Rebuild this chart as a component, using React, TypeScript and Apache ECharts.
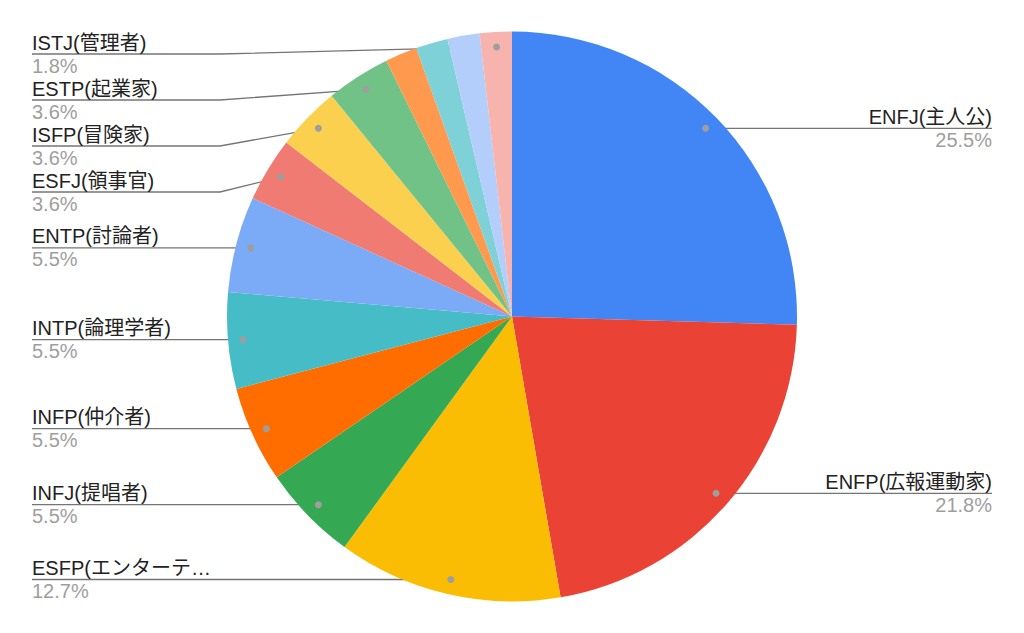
import { useEffect, useRef } from "react";
import * as echarts from "echarts";

// ---- data ----
const categories = [
  "ENFJ(主人公)",
  "ENFP(広報運動家)",
  "ESFP(エンターテイナー)",
  "INFJ(提唱者)",
  "INFP(仲介者)",
  "INTP(論理学者)",
  "ENTP(討論者)",
  "ESFJ(領事官)",
  "ISFP(冒険家)",
  "ESTP(起業家)",
  "ISFJ(擁護者)",
  "ESTJ(幹部)",
  "ISTP(巨匠)",
  "ISTJ(管理者)",
];
const counts = [14, 12, 7, 3, 3, 3, 3, 2, 2, 2, 1, 1, 1, 1];
const unlabeled = ["ISFJ(擁護者)", "ESTJ(幹部)", "ISTP(巨匠)"];
const sliceColors = [
  "#4285F4", "#EA4335", "#FBBC04", "#34A853", "#FF6D01", "#46BDC6", "#7BAAF7",
  "#F07B72", "#FCD04F", "#71C287", "#FF994D", "#7ED1D7", "#B3CEFB", "#F7B4AE",
];

// ---- layout constants ----
const W = 1024;
const H = 633;
const CX = 512;
const CY = 316.5;
const R = 285;
const DOT_R = 270;
const LEFT_X = 32;
const RIGHT_X = 992;
const LABEL_W = 188;
const SPACING = 46;
const MIN_Y = 54;
const FONT = "'Liberation Sans', Arial, 'Noto Sans CJK JP', sans-serif";
const FONT_SIZE = 20;
const LINE_H = 23;

type Lay = { x: number; y: number; align: string; dot: number[]; points: number[][] };

function computeLayout(): (Lay | null)[] {
  const total = counts.reduce((a, b) => a + b, 0);
  let acc = 0;
  const items = counts.map((v, i) => {
    const a = ((acc + v / 2) / total) * Math.PI * 2;
    acc += v;
    const dot = [CX + DOT_R * Math.sin(a), CY - DOT_R * Math.cos(a)];
    return { i, dot, left: Math.sin(a) < 0, show: !unlabeled.includes(categories[i]) };
  });
  const res: (Lay | null)[] = categories.map(() => null);
  [true, false].forEach((left) => {
    const side = items.filter((it) => it.show && it.left === left).sort((a, b) => a.dot[1] - b.dot[1]);
    let prev = -Infinity;
    side.forEach((it) => {
      const y = Math.max(it.dot[1], prev + SPACING, MIN_Y);
      prev = y;
      const endX = left ? LEFT_X : RIGHT_X;
      const bendX = left ? LEFT_X + LABEL_W : RIGHT_X - LABEL_W;
      res[it.i] = {
        x: endX,
        y,
        align: left ? "left" : "right",
        dot: it.dot,
        points: [it.dot, [left ? Math.min(bendX, it.dot[0]) : Math.max(bendX, it.dot[0]), y], [endX, y]],
      };
    });
  });
  return res;
}

export default function App() {
  const ref = useRef<HTMLDivElement>(null);
  useEffect(() => {
    if (!ref.current) return;
    const chart = echarts.init(ref.current, null, { renderer: "svg" });
    const total = counts.reduce((a, b) => a + b, 0);
    const layout = computeLayout();
    const data = categories.map((name, i) => {
      const show = !unlabeled.includes(name);
      return {
        name,
        value: counts[i],
        itemStyle: { color: sliceColors[i] },
        label: { show },
        labelLine: { show },
      };
    });
    chart.setOption({
      animation: false,
      series: [
        {
          type: "pie",
          center: [CX, CY],
          radius: R,
          startAngle: 90,
          clockwise: true,
          avoidLabelOverlap: false,
          silent: true,
          emphasis: { disabled: true },
          data,
          label: {
            show: true,
            position: "outside",
            fontFamily: FONT,
            formatter: (p: any) => {
              const nm = echarts.format.truncateText(p.name, LABEL_W, `${FONT_SIZE}px ${FONT}`, "…", {});
              const pct = ((counts[p.dataIndex] / total) * 100).toFixed(1) + "%";
              return `{n|${nm}}\n{p|${pct}}`;
            },
            rich: {
              n: { fontSize: FONT_SIZE, fontFamily: FONT, color: "#222222", lineHeight: LINE_H },
              p: { fontSize: FONT_SIZE, fontFamily: FONT, color: "#9e9e9e", lineHeight: LINE_H },
            },
          },
          labelLine: { show: true, length: 10, length2: 10, lineStyle: { color: "#757575", width: 1.3 } },
          labelLayout: (p: any) => {
            const L = layout[p.dataIndex];
            if (!L) return {};
            return { x: L.x, y: L.y, align: L.align, verticalAlign: "middle", labelLinePoints: L.points };
          },
        },
      ],
      graphic: layout
        .filter((L) => L)
        .map((L) => ({
          type: "circle",
          silent: true,
          z: 100,
          shape: { cx: (L as Lay).dot[0], cy: (L as Lay).dot[1], r: 3.5 },
          style: { fill: "#9e9e9e" },
        })),
    });
    return () => chart.dispose();
  }, []);
  return (
    <div
      ref={ref}
      style={{ position: "fixed", left: 0, top: 0, width: W, height: H, background: "#ffffff" }}
    />
  );
}
